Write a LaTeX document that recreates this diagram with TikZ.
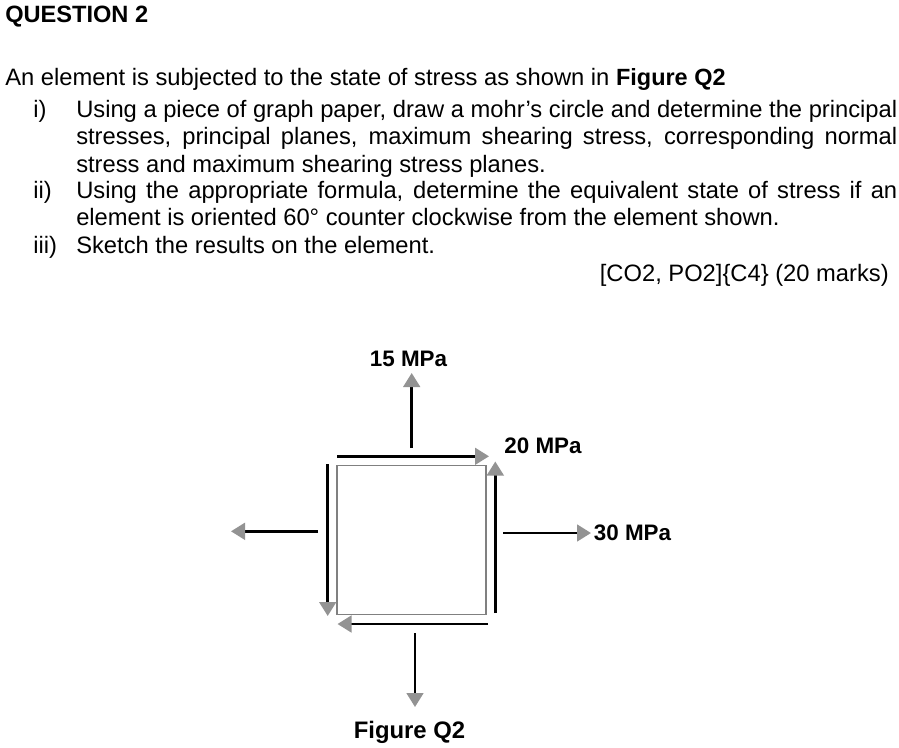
\documentclass[tikz,border=0pt]{standalone}
\usepackage{fontspec}
\setmainfont{Liberation Sans}
\usetikzlibrary{arrows.meta,positioning}

\begin{document}
\begin{tikzpicture}[
    x=0.75pt, y=-0.75pt,
    >={Triangle[length=10.5pt,width=12.5pt,color=gray!85]},
    stress/.style={draw=black, line width=2pt, ->},
    element/.style={rectangle, draw=gray, line width=1.1pt, minimum size=111.5pt, inner sep=0pt},
    bodytext/.style={inner sep=0pt, font=\fontsize{17.8}{20.55}\selectfont},
    para/.style={bodytext, anchor=north west, text width=615.75pt, align=justify},
    tag/.style={bodytext, anchor=north west},
    stresslabel/.style={inner sep=0pt, font=\fontsize{16.8}{20}\selectfont\bfseries}
    ]

    % Page size
    \path[use as bounding box, fill=white] (0,0) rectangle (899,747);

    % Question text
    \node[tag, font=\fontsize{17.7}{20}\selectfont\bfseries] (question) at (5,6) {QUESTION 2};
    \node[tag] (intro) at (5,68) {An element is subjected to the state of stress as shown in {\fontsize{17.6}{20.6}\selectfont\textbf{Figure Q2}}};

    \node[tag] (tagi) at (33,100) {i)};
    \node[para] (itemi) at (76,100) {Using a piece of graph paper, draw a mohr’s circle and determine the principal\linebreak
      stresses, principal planes, maximum shearing stress, corresponding normal\linebreak
      stress and maximum shearing stress planes.};

    \node[tag] (tagii) at (33,181) {ii)};
    \node[para] (itemii) at (76,181) {Using the appropriate formula, determine the equivalent state of stress if an\linebreak
      element is oriented 60° counter clockwise from the element shown.};

    \node[tag] (tagiii) at (33,236) {iii)};
    \node[para] (itemiii) at (76,236) {Sketch the results on the element.};

    \node[bodytext, anchor=north east] (marks) at (889,264) {[CO2, PO2]\{C4\} (20 marks)};

    % Element
    \node[element] (square) at (411.5,540) {};

    % Normal stress, vertical
    \coordinate (upstart) at (411.7,448);
    \coordinate (upend) at (411.7,373);
    \draw[stress] (upstart) -- (upend);
    \coordinate (downstart) at (415,633);
    \coordinate (downend) at (415,707);
    \draw[stress] (downstart) -- (downend);

    % Normal stress, horizontal
    \coordinate (leftstart) at (318,531.3);
    \coordinate (leftend) at (231,531.3);
    \draw[stress] (leftstart) -- (leftend);
    \coordinate (rightstart) at (503,533);
    \coordinate (rightend) at (591,533);
    \draw[stress] (rightstart) -- (rightend);

    % Shear stress round the element
    \coordinate (topstart) at (337,456.3);
    \coordinate (topend) at (489,456.3);
    \draw[stress] (topstart) -- (topend);
    \coordinate (eaststart) at (495.3,613);
    \coordinate (eastend) at (495.3,461.5);
    \draw[stress] (eaststart) -- (eastend);
    \coordinate (weststart) at (327.7,464);
    \coordinate (westend) at (327.7,616);
    \draw[stress] (weststart) -- (westend);
    \coordinate (botstart) at (488,624);
    \coordinate (botend) at (337.5,624);
    \draw[stress] (botstart) -- (botend);

    % Labels
    \node[stresslabel] (sigy) at (408.5,359) {15 MPa};
    \node[stresslabel] (tauxy) at (543,446) {20 MPa};
    \node[stresslabel] (sigx) at (632.5,533) {30 MPa};
    \node[stresslabel, font=\fontsize{17.9}{20}\selectfont\bfseries] (figlabel) at (409.5,732) {Figure Q2};

\end{tikzpicture}
\end{document}
